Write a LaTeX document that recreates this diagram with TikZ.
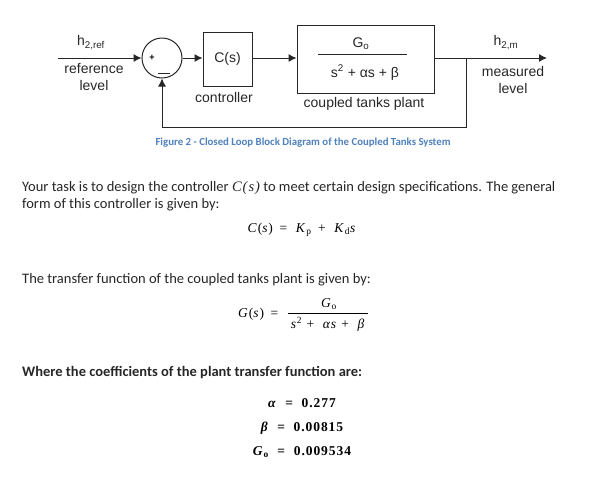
\documentclass[tikz,border=0pt]{standalone}
\usepackage{fontspec}
\setmainfont{Carlito}
\newfontfamily\diagfont{Liberation Sans}
\newfontfamily\eqnfont[LetterSpace=7]{Liberation Serif}
\usetikzlibrary{arrows.meta}
\definecolor{capblue}{RGB}{79,129,189}
\tikzset{
    block/.style={draw=black!85,line width=1pt,inner sep=0pt},
    signal/.style={draw=black!85,line width=1pt,-{Latex[length=8pt,width=8pt]}},
    diag/.style={font=\diagfont\fontsize{14}{15}\selectfont,text=black!85,inner sep=0pt},
    para/.style={anchor=west,font=\fontsize{14.5}{16}\selectfont,text=black!85,inner sep=0pt},
    eqn/.style={font=\eqnfont\fontsize{13.5}{15}\selectfont,text=black,inner sep=0pt},
    eqnb/.style={eqn,font=\eqnfont\bfseries\fontsize{13.5}{15}\selectfont},
}
\begin{document}
\begin{tikzpicture}[x=1pt,y=-1pt]
    \useasboundingbox (0,0) rectangle (611,499);
    %% Blocks
    \node[block,circle,minimum size=40pt] (Sum) at (162,58) {};
    \node[block,minimum width=49pt,minimum height=54pt] (C) at (227.5,59) {};
    \node[block,minimum width=137pt,minimum height=68pt] (G) at (365.5,59) {};
    \node[diag] at (227.5,58.5) {C(s)};
    \node[diag,text=black,font=\diagfont\bfseries\fontsize{9}{10}\selectfont] at (152,58) {+};
    \draw[line width=1pt,draw=black!85] (158,73) -- (170,73);
    %% Plant fraction
    \node[diag] (Gnum) at (361,44) {G\textsubscript{o}};
    \node[diag] (Gden) at (365,72.5) {s\textsuperscript{2} + αs + β};
    \draw[line width=1pt,draw=black!85] (318,54) -- (407,54);
    %% Signals
    \coordinate (In) at (58,58);
    \coordinate (Out) at (547,58);
    \coordinate (Branch) at (466,58);
    \coordinate (Low) at (466,127);
    \draw[signal] (In) -- (Sum.west);
    \draw[signal] (Sum.east) -- (C.west |- Sum.east);
    \draw[signal] (C.east |- Sum.east) -- (G.west |- Sum.east);
    \draw[signal] (G.east |- Sum.east) -- (Out);
    \draw[signal] (Branch) -- (Low) -| (Sum.south);
    %% Labels
    \node[diag] (Href) at (91,42.5) {h\textsubscript{2,ref}};
    \node[diag] (RefA) at (94,68) {reference};
    \node[diag] (RefB) at (94,85.5) {level};
    \node[diag] (Ctrl) at (224,97) {controller};
    \node[diag] (Plant) at (364,104) {coupled tanks plant};
    \node[diag] (Hm) at (506,42.5) {h\textsubscript{2,m}};
    \node[diag] (MeasA) at (513,71) {measured};
    \node[diag] (MeasB) at (513,88) {level};
    \node[inner sep=0pt,text=capblue,font=\bfseries\fontsize{10.8}{12}\selectfont] (Cap) at (303,142.5) {Figure 2 - Closed Loop Block Diagram of the Coupled Tanks System};
    %% Text
    \node[para] (P1) at (22,188) {Your task is to design the controller {\eqnfont\itshape C(s)} to meet certain design specifications. The general};
    \node[para] (P2) at (22,205) {form of this controller is given by:};
    \node[eqn] (Eq1) at (302,230) {\textit{C}(\textit{s})\, =\ \ \textit{K}\textsubscript{p}\, +\ \ \textit{K}\textsubscript{d}\textit{s}};
    \node[para] (P3) at (22,280) {The transfer function of the coupled tanks plant is given by:};
    \node[eqn,anchor=west] (Eq2L) at (238,314) {\textit{G}(\textit{s})\, =};
    \node[eqn] (Eq2N) at (329,304) {\textit{G}\textsubscript{o}};
    \node[eqn] (Eq2D) at (328,324) {\textit{s}\textsuperscript{2} +\ \ \textit{αs} +\ \ \textit{β}};
    \draw[line width=0.8pt] (288,313) -- (368,313);
    \node[para,font=\bfseries\fontsize{14.5}{16}\selectfont] (P4) at (22,373) {Where the coefficients of the plant transfer function are:};
    \node[eqnb] (A) at (302,403) {\textit{α}\ \ =\ \ 0.277};
    \node[eqnb] (B) at (302,428) {\textit{β}\ \ =\ \ 0.00815};
    \node[eqnb] (Gz) at (302,452) {\textit{G}\textsubscript{o}\ \ =\ \ 0.009534};
\end{tikzpicture}
\end{document}
